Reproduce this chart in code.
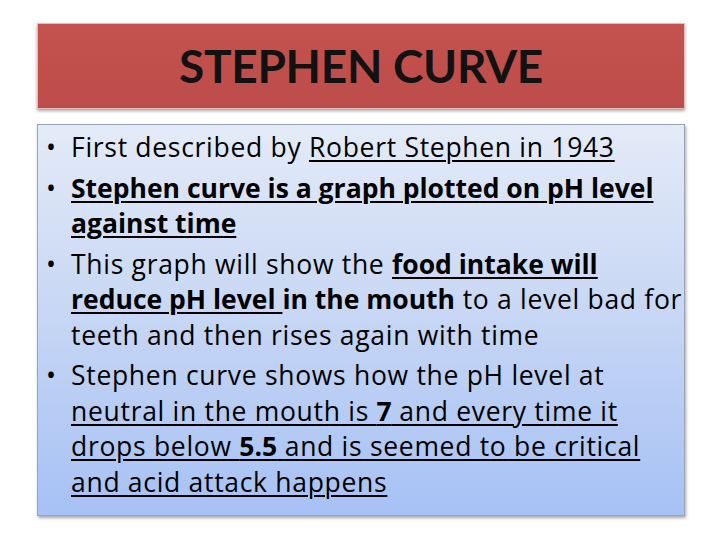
<!DOCTYPE html>
<html><head><meta charset="utf-8">
<script src="https://cdn.jsdelivr.net/npm/d3@7"></script>
<script src="https://cdn.jsdelivr.net/npm/@observablehq/plot@0.6"></script>
<style>
html,body{margin:0;padding:0;background:#fff;}
#slide{position:relative;width:720px;height:540px;overflow:hidden;background:#fff;font-family:"Open Sans",Lato,sans-serif;}
#title{position:absolute;left:37px;top:23px;width:648px;height:86px;background:linear-gradient(#c4524f,#bd4d4a);
 box-shadow:0 2px 3px rgba(0,0,0,0.35), inset 0 0 0 1px rgba(255,255,255,0.6);display:flex;align-items:center;justify-content:center;}
#title span{font-family:Lato,sans-serif;font-weight:700;font-size:46px;color:#121212;letter-spacing:-0.3px;margin-top:-1px;}
#box{position:absolute;left:37px;top:124px;width:646px;height:390px;border:1px solid #9aa5b8;
 background:linear-gradient(#e4ebf8 0%,#c9d8f4 45%,#a6c1f5 100%);box-shadow:1px 2px 3px rgba(0,0,0,0.35);}
ul{margin:0;padding:5px 0 0 0;list-style:none;}
li{position:relative;padding-left:33px;font-size:26.5px;line-height:35.5px;color:#000;margin-bottom:5px;white-space:nowrap;letter-spacing:0.7px;}
li:before{content:"•";position:absolute;left:8px;top:0;letter-spacing:0;}
u{text-underline-offset:3px;text-decoration-thickness:1.5px;}
b{font-weight:700;letter-spacing:0;}
</style></head>
<body>
<div id="slide">
 <div id="title"><span></span></div>
 <div id="box"><ul id="list"></ul></div>
</div>
<script>
const titleText = "STEPHEN CURVE";
// each bullet: lines; each line: segments [text, bold, underline]
const bullet1 = [[["First described by ", false, false], ["Robert Stephen in 1943", false, true]]];
const bullet2 = [[["Stephen curve is a graph plotted on pH level", true, true]],
                 [["against time", true, true]]];
const bullet3 = [[["This graph will show the ", false, false], ["food intake will", true, true]],
                 [["reduce pH level ", true, true], ["in the mouth", true, false], [" to a level bad for", false, false]],
                 [["teeth and then rises again with time", false, false]]];
const bullet4 = [[["Stephen curve shows how the pH level at", false, false]],
                 [["neutral in the mouth is ", false, true], ["7", true, true], [" and every time it", false, true]],
                 [["drops below ", false, true], ["5.5", true, true], [" and is seemed to be critical", false, true]],
                 [["and acid attack happens", false, true]]];
const bullets = [bullet1, bullet2, bullet3, bullet4];

document.querySelector("#title span").textContent = titleText;
const ul = d3.select("#list");
for (const b of bullets) {
  const li = ul.append("li");
  b.forEach((line, i) => {
    if (i > 0) li.append("br");
    for (const [t, bold, und] of line) {
      let el = li;
      if (und) el = el.append("u");
      if (bold) el = el.append("b");
      if (el === li) li.append("span").text(t); else el.text(t);
    }
  });
}
</script>
</body></html>
